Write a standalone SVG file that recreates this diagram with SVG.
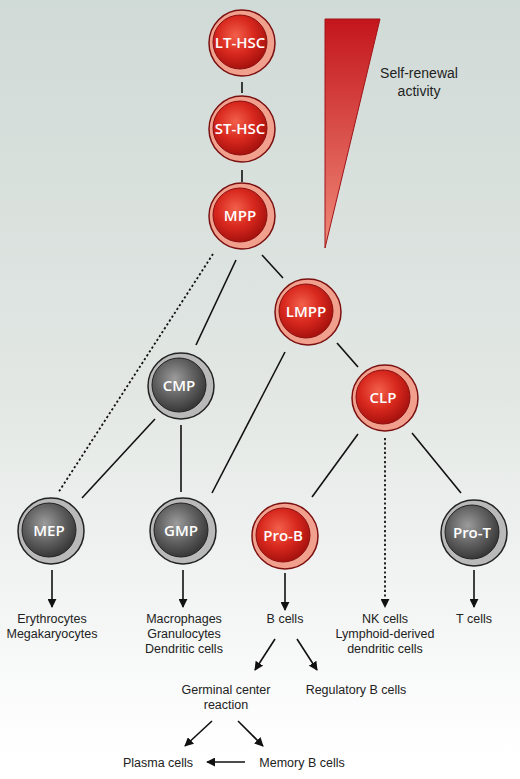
<svg xmlns="http://www.w3.org/2000/svg" width="520" height="779" viewBox="0 0 520 779">
  <defs>
    <linearGradient id="bg" x1="0" y1="0" x2="0" y2="1">
      <stop offset="0" stop-color="#d0dad6"/>
      <stop offset="0.5" stop-color="#e2e7e4"/>
      <stop offset="0.97" stop-color="#ffffff"/>
    </linearGradient>
    <linearGradient id="tri" x1="0" y1="0" x2="0" y2="1">
      <stop offset="0" stop-color="#c4161c"/>
      <stop offset="1" stop-color="#ef8a78"/>
    </linearGradient>
    <radialGradient id="redIn" cx="0.42" cy="0.38" r="0.62">
      <stop offset="0" stop-color="#f2604a"/>
      <stop offset="0.55" stop-color="#d8281e"/>
      <stop offset="1" stop-color="#a8120e"/>
    </radialGradient>
    <radialGradient id="greyIn" cx="0.42" cy="0.38" r="0.62">
      <stop offset="0" stop-color="#9c9c9c"/>
      <stop offset="0.55" stop-color="#626262"/>
      <stop offset="1" stop-color="#383838"/>
    </radialGradient>
    <marker id="ah" viewBox="0 0 10 10" refX="9" refY="5" markerWidth="9" markerHeight="9" markerUnits="userSpaceOnUse" orient="auto">
      <path d="M0,0 L10,5 L0,10 Z" fill="#111"/>
    </marker>
  </defs>
  <style>
    .redRing { fill: #f2a08e; stroke: #7a1010; stroke-width: 1.5; }
    .redCore { fill: url(#redIn); stroke: #8a1010; stroke-width: 1; }
    .greyRing { fill: #b9b9b9; stroke: #222; stroke-width: 1.5; }
    .greyCore { fill: url(#greyIn); stroke: #222; stroke-width: 1; }
    .lbl { font-family: "Open Sans", "Liberation Sans", sans-serif; font-size: 15px; font-weight: 600; fill: #fff; text-anchor: middle; }
    .txt { font-family: "Liberation Sans", Arial, sans-serif; font-size: 12.5px; fill: #222; text-anchor: middle; }
    .big { font-size: 14px; }
    .ln { stroke: #111; stroke-width: 1.6; fill: none; }
    .dot { stroke: #111; stroke-width: 1.8; fill: none; stroke-dasharray: 2.2 2.4; }
    .arr { stroke: #111; stroke-width: 1.6; fill: none; marker-end: url(#ah); }
    .arrd { stroke: #111; stroke-width: 1.8; fill: none; stroke-dasharray: 2.2 2.4; marker-end: url(#ah); }
  </style>
  <rect x="0" y="0" width="520" height="779" fill="url(#bg)"/>

  <g id="self-renewal">
    <polygon points="325,19 380,19 325,248" fill="url(#tri)" stroke="#a01418" stroke-width="1"/>
    <text class="txt big" x="419" y="78">Self-renewal</text>
    <text class="txt big" x="419" y="96">activity</text>
  </g>

  <g id="connectors">
    <line class="ln" x1="242" y1="82" x2="242" y2="93"/>
    <line class="ln" x1="242" y1="170" x2="242" y2="182"/>
    <line class="ln" x1="262" y1="255" x2="283" y2="278"/>
    <line class="ln" x1="236" y1="260" x2="196" y2="345"/>
    <line class="dot" x1="213" y1="254" x2="58" y2="493"/>
    <line class="ln" x1="155" y1="419" x2="82" y2="498"/>
    <line class="ln" x1="181" y1="425" x2="181" y2="492"/>
    <line class="ln" x1="285" y1="352" x2="212" y2="493"/>
    <line class="ln" x1="337" y1="343" x2="358" y2="367"/>
    <line class="ln" x1="358" y1="434" x2="312" y2="497"/>
    <line class="ln" x1="412" y1="433" x2="461" y2="493"/>
    <line class="arrd" x1="385" y1="438" x2="385" y2="607"/>
    <line class="arr" x1="52" y1="570" x2="52" y2="607"/>
    <line class="arr" x1="183" y1="570" x2="183" y2="607"/>
    <line class="arr" x1="285" y1="573" x2="285" y2="610"/>
    <line class="arr" x1="474" y1="570" x2="474" y2="607"/>
    <line class="arr" x1="275" y1="639" x2="255" y2="670"/>
    <line class="arr" x1="297" y1="639" x2="317" y2="670"/>
    <line class="arr" x1="212" y1="721" x2="185" y2="746"/>
    <line class="arr" x1="238" y1="721" x2="263" y2="746"/>
    <line class="arr" x1="245" y1="762" x2="207" y2="762"/>
  </g>

  <g id="LT-HSC">
    <circle class="redRing" cx="242" cy="43" r="33"/>
    <circle class="redCore" cx="240" cy="42" r="27"/>
    <text class="lbl" x="240" y="48">LT-HSC</text>
  </g>
  <g id="ST-HSC">
    <circle class="redRing" cx="242" cy="129" r="33"/>
    <circle class="redCore" cx="240" cy="128" r="27"/>
    <text class="lbl" x="240" y="134">ST-HSC</text>
  </g>
  <g id="MPP">
    <circle class="redRing" cx="242" cy="216" r="33"/>
    <circle class="redCore" cx="240" cy="215" r="27"/>
    <text class="lbl" x="240" y="221">MPP</text>
  </g>
  <g id="LMPP">
    <circle class="redRing" cx="308" cy="312" r="33"/>
    <circle class="redCore" cx="306" cy="311" r="27"/>
    <text class="lbl" x="306" y="317">LMPP</text>
  </g>
  <g id="CMP">
    <circle class="greyRing" cx="181" cy="386" r="33"/>
    <circle class="greyCore" cx="179" cy="385" r="27"/>
    <text class="lbl" x="179" y="391">CMP</text>
  </g>
  <g id="CLP">
    <circle class="redRing" cx="385" cy="398" r="33"/>
    <circle class="redCore" cx="383" cy="397" r="27"/>
    <text class="lbl" x="383" y="403">CLP</text>
  </g>
  <g id="MEP">
    <circle class="greyRing" cx="51" cy="531" r="33"/>
    <circle class="greyCore" cx="49" cy="530" r="27"/>
    <text class="lbl" x="49" y="536">MEP</text>
  </g>
  <g id="GMP">
    <circle class="greyRing" cx="183" cy="531" r="33"/>
    <circle class="greyCore" cx="181" cy="530" r="27"/>
    <text class="lbl" x="181" y="536">GMP</text>
  </g>
  <g id="Pro-B">
    <circle class="redRing" cx="285" cy="536" r="33"/>
    <circle class="redCore" cx="283" cy="535" r="27"/>
    <text class="lbl" x="283" y="541">Pro-B</text>
  </g>
  <g id="Pro-T">
    <circle class="greyRing" cx="474" cy="533" r="33"/>
    <circle class="greyCore" cx="472" cy="532" r="27"/>
    <text class="lbl" x="472" y="538">Pro-T</text>
  </g>

  <g id="outcomes">
    <text class="txt" x="52" y="623">Erythrocytes</text>
    <text class="txt" x="52" y="638">Megakaryocytes</text>
    <text class="txt" x="184" y="623">Macrophages</text>
    <text class="txt" x="184" y="638">Granulocytes</text>
    <text class="txt" x="184" y="653">Dendritic cells</text>
    <text class="txt" x="285" y="623">B cells</text>
    <text class="txt" x="385" y="623">NK cells</text>
    <text class="txt" x="385" y="638">Lymphoid-derived</text>
    <text class="txt" x="385" y="653">dendritic cells</text>
    <text class="txt" x="474" y="623">T cells</text>
    <text class="txt" x="226" y="694">Germinal center</text>
    <text class="txt" x="226" y="709">reaction</text>
    <text class="txt" x="356" y="694">Regulatory B cells</text>
    <text class="txt" x="158" y="767">Plasma cells</text>
    <text class="txt" x="302" y="767">Memory B cells</text>
  </g>
</svg>
